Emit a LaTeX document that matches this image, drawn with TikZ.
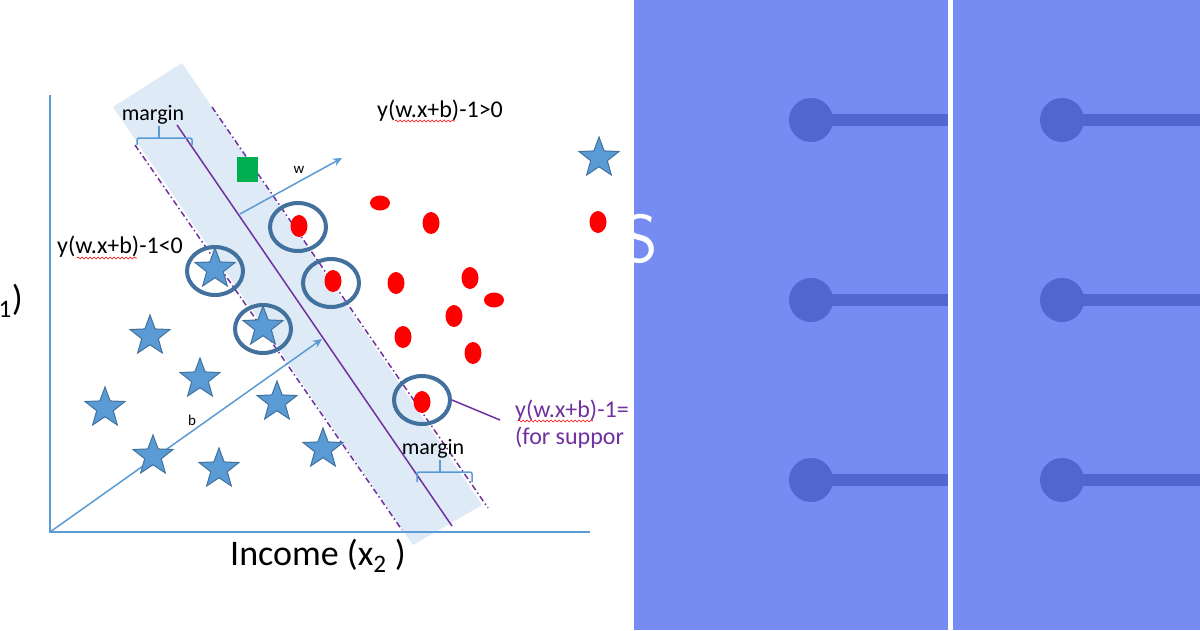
\documentclass[tikz,border=0pt]{standalone}
\usepackage{fontspec}
\setmainfont{Carlito}
\usetikzlibrary{shapes.geometric,arrows.meta,decorations.pathmorphing}
\definecolor{axisblue}{HTML}{5B9BD5}
\definecolor{ringblue}{HTML}{41719C}
\definecolor{bandblue}{HTML}{DEEAF6}
\definecolor{svmpurple}{HTML}{7030A0}
\definecolor{ptgreen}{HTML}{00B050}
\definecolor{panelblue}{HTML}{778CF3}
\definecolor{knobblue}{HTML}{4F67CF}

\begin{document}
\begin{tikzpicture}[x=1pt,y=-1pt]
\tikzstyle{every node}=[inner sep=0pt]
\tikzstyle{pstar}=[star,star points=5,star point ratio=2.4,minimum size=42pt,fill=axisblue,draw=ringblue,line width=1pt]
\tikzstyle{pdot}=[ellipse,fill=red,minimum width=17pt,minimum height=22pt]
\tikzstyle{hdot}=[ellipse,fill=red,minimum width=20pt,minimum height=15pt]
\tikzstyle{ring}=[ellipse,draw=ringblue,line width=4pt,minimum width=56pt,minimum height=48pt]
\tikzstyle{lbl}=[font=\fontsize{24}{28}\selectfont]
\tikzstyle{mlbl}=[font=\fontsize{22}{26}\selectfont]
\tikzstyle{smalllbl}=[font=\fontsize{15}{18}\selectfont]
\tikzstyle{axlbl}=[font=\fontsize{36}{40}\selectfont]
\tikzstyle{squig}=[red,line width=0.6pt,decorate,decoration={snake,amplitude=1pt,segment length=4pt}]
\tikzstyle{mbrace}=[axisblue,line width=1.5pt,rounded corners=2pt]
\tikzstyle{vec}=[axisblue,line width=1.5pt,-{Stealth[length=9pt,width=8pt]}]
\tikzstyle{svline}=[svmpurple,line width=1.5pt]
\tikzstyle{svdash}=[svmpurple,line width=1.5pt,dash pattern=on 6pt off 3pt on 1.5pt off 3pt]
\tikzstyle{knob}=[circle,fill=knobblue,minimum size=44pt]
\tikzstyle{bar}=[knobblue,line width=12pt]

\useasboundingbox (0,0) rectangle (1200,630);
\fill[white] (0,0) rectangle (1200,630);

% margin band
\fill[bandblue] (113,107)--(182,63)--(482,505)--(413,545)--cycle;

% axes
\coordinate (O) at (50,532);
\coordinate (ytop) at (50,95);
\coordinate (xend) at (590,532);
\draw[axisblue,line width=1.5pt] (ytop)--(O)--(xend);

% hyperplane and margins
\draw[svline] (177,125)--(452,526);
\draw[svdash] (135,145)--(402,530);
\draw[svdash] (212,107)--(488,508);

% w and b
\coordinate (wfoot) at (240,214);
\coordinate (wtip) at (342,158);
\coordinate (btip) at (322,339);
\draw[vec] (wfoot)--(wtip);
\draw[vec] (O)--(btip);
\node[smalllbl,anchor=base] (wl) at (299,173) {w};
\node[smalllbl,anchor=base] (bl) at (192,425) {b};

% margin brackets
\draw[mbrace] (137,145)--(137,138)--(192,138)--(192,145);
\draw[mbrace] (159,138)--(159,126);
\node[mlbl,anchor=base] (mtop) at (153,120) {margin};
\draw[mbrace] (417,482)--(417,472)--(472,472)--(472,482);
\draw[mbrace] (440,472)--(440,460);
\node[mlbl,anchor=base] (mbot) at (433,454) {margin};

\fill[ptgreen] (237,157) rectangle (258,182);

% stars
\node[pstar] (s1) at (215,269) {};
\node[pstar] (s2) at (263,327) {};
\node[pstar] (s3) at (150,336) {};
\node[pstar] (s4) at (200,379) {};
\node[pstar] (s5) at (105,408) {};
\node[pstar] (s6) at (277,402) {};
\node[pstar] (s7) at (153,456) {};
\node[pstar] (s8) at (219,469) {};
\node[pstar] (s9) at (323,449) {};
\node[pstar] (s10) at (599,158) {};

% red points
\node[pdot] (r1) at (299,226) {};
\node[pdot] (r2) at (333,281) {};
\node[pdot] (r3) at (422,402) {};
\node[hdot] (r4) at (380,203) {};
\node[pdot] (r5) at (431,223) {};
\node[pdot] (r6) at (396,283) {};
\node[pdot] (r7) at (470,278) {};
\node[hdot] (r8) at (494,300) {};
\node[pdot] (r9) at (454,316) {};
\node[pdot] (r10) at (403,337) {};
\node[pdot] (r11) at (473,353) {};
\node[pdot] (r12) at (598,222) {};

% support vectors
\node[ring] (c1) at (298,227) {};
\node[ring] (c2) at (331,283) {};
\node[ring] (c3) at (215,271) {};
\node[ring] (c4) at (263,329) {};
\node[ring] (c5) at (422,400) {};
\coordinate (callout) at (500,420);
\draw[svline] (c5.east)--(callout);

% conditions
\node[lbl,anchor=base west] (neg) at (57,253) {y(w.x+b)-1<0};
\draw[squig] (77,258)--(137,258);
\node[lbl,anchor=base west] (pos) at (377,117) {y(w.x+b)-1>0};
\draw[squig] (395,121)--(455,121);
\node[lbl,anchor=base west,text=svmpurple] (sv1) at (515,417) {y(w.x+b)-1=};
\draw[squig] (518,421)--(593,421);
\node[lbl,anchor=base west,text=svmpurple] (sv2) at (515,444) {(for suppor};

% axis titles
\node[axlbl,anchor=base west] (xt) at (230,565) {Income (x\textsubscript{2} )};
\node[axlbl,anchor=base east] (yt) at (23,310) {\textsubscript{1})};

% panels
\fill[panelblue] (634,0) rectangle (948,630);
\fill[panelblue] (953,0) rectangle (1200,630);
\node[knob] (k1) at (811,120) {};
\node[knob] (k2) at (811,300) {};
\node[knob] (k3) at (811,480) {};
\node[knob] (k4) at (1062,120) {};
\node[knob] (k5) at (1062,300) {};
\node[knob] (k6) at (1062,480) {};
\coordinate (e1) at (948,120);
\coordinate (e2) at (948,300);
\coordinate (e3) at (948,480);
\coordinate (e4) at (1200,120);
\coordinate (e5) at (1200,300);
\coordinate (e6) at (1200,480);
\draw[bar] (k1.center)--(e1);
\draw[bar] (k2.center)--(e2);
\draw[bar] (k3.center)--(e3);
\draw[bar] (k4.center)--(e4);
\draw[bar] (k5.center)--(e5);
\draw[bar] (k6.center)--(e6);
\node[white,font=\sffamily\fontsize{68}{68}\selectfont,anchor=base east] (ttl) at (658,262) {S};
\end{tikzpicture}
\end{document}
